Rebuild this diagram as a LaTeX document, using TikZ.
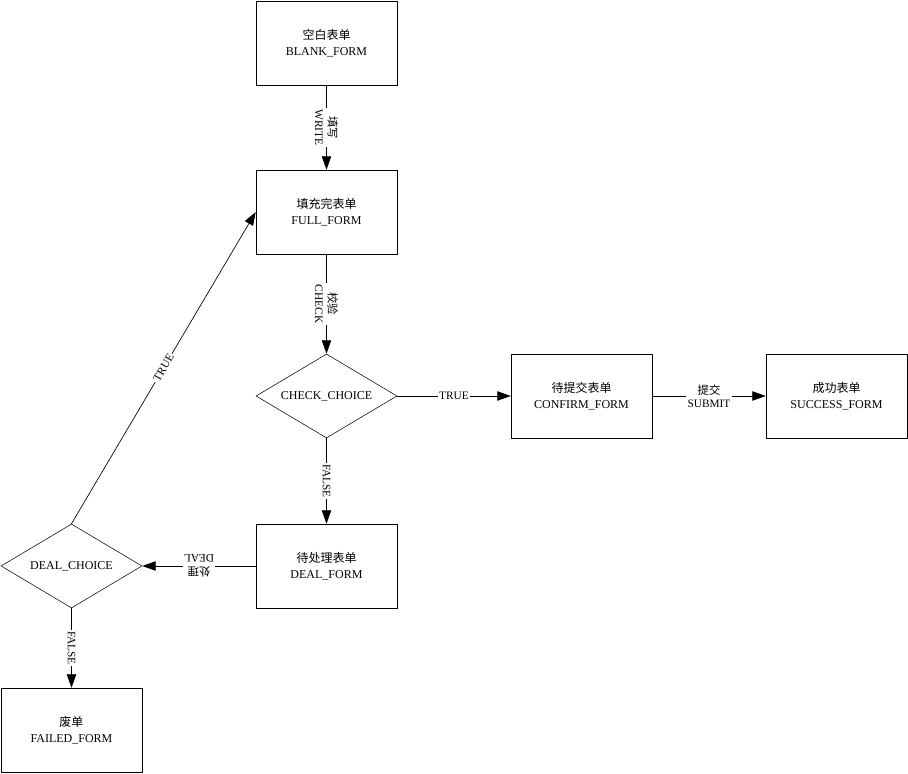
\documentclass[tikz,border=0pt]{standalone}
\usepackage{fontspec}
\setmainfont{Liberation Serif}
\newfontfamily\cjk{Noto Sans CJK SC}
\usetikzlibrary{arrows.meta,shapes.geometric}
\begin{document}
\begin{tikzpicture}[x=0.75pt,y=-0.75pt,
  box/.style={draw,minimum width=105.75pt,minimum height=63pt,align=center,font=\fontsize{9}{12}\selectfont,inner sep=0pt},
  dia/.style={draw,diamond,aspect=1.68,minimum width=105.75pt,minimum height=63pt,inner sep=0pt,font=\fontsize{9}{11}\selectfont},
  arr/.style={-{Triangle[length=10pt,width=7pt]},line width=0.5pt},
  lab/.style={fill=white,inner sep=1pt,align=center,font=\fontsize{8.5}{10}\selectfont}]
\useasboundingbox (0,0) rectangle (908,774);
\node[box] (blank) at (326.5,43) {{\cjk 空白表单}\\BLANK\_FORM};
\node[box] (full) at (326.5,212) {{\cjk 填充完表单}\\FULL\_FORM};
\node[dia] (cc) at (326.5,396) {CHECK\_CHOICE};
\node[box] (confirm) at (581.5,396) {{\cjk 待提交表单}\\CONFIRM\_FORM};
\node[box] (success) at (836.5,396) {{\cjk 成功表单}\\SUCCESS\_FORM};
\node[box] (deal) at (326.5,566) {{\cjk 待处理表单}\\DEAL\_FORM};
\node[dia] (dc) at (71.5,566) {DEAL\_CHOICE};
\node[box] (failed) at (71.5,730) {{\cjk 废单}\\FAILED\_FORM};
\draw[arr] (blank) -- node[lab,rotate=-90]{{\cjk 填写}\\WRITE} (full);
\draw[arr] (full) -- node[lab,rotate=-90]{{\cjk 校验}\\CHECK} (cc);
\draw[arr] (cc) -- node[lab]{TRUE} (confirm);
\draw[arr] (confirm) -- node[lab]{{\cjk 提交}\\SUBMIT} (success);
\draw[arr] (cc) -- node[lab,rotate=-90]{FALSE} (deal);
\draw[arr] (deal) -- node[lab,rotate=180]{{\cjk 处理}\\DEAL} (dc);
\draw[arr] (dc) -- node[lab,rotate=-90]{FALSE} (failed);
\draw[arr] (dc.north) -- node[lab,sloped]{TRUE} (full.west);
\end{tikzpicture}
\end{document}
